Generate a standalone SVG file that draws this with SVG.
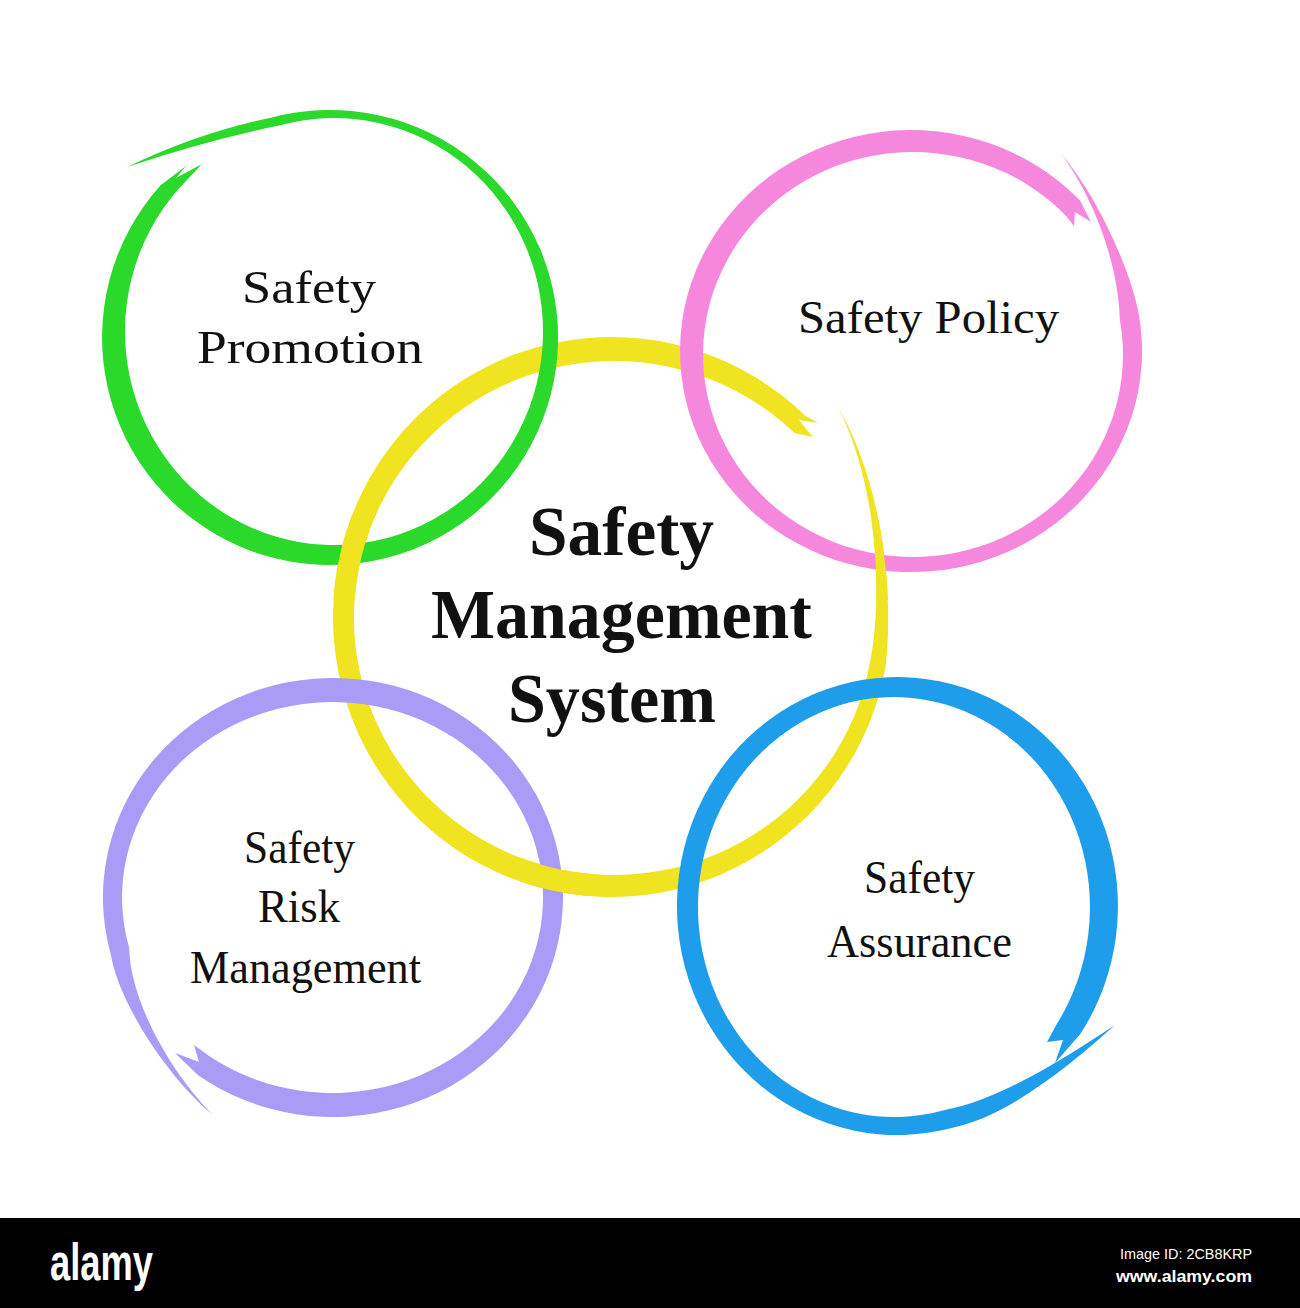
<svg xmlns="http://www.w3.org/2000/svg" xmlns:xlink="http://www.w3.org/1999/xlink" width="1300" height="1308" viewBox="0 0 1300 1308">
<style>
  .lbl { font-family: "Liberation Serif", "Times New Roman", serif; fill: #111; }
  .ctr { font-size: 70px; font-weight: bold; }
  .side { font-size: 46px; }
  .ring-g { fill: #2bd92b; }
  .ring-y { fill: #f0e31f; }
  .ring-p { fill: #f588dc; }
  .ring-l { fill: #a99bf6; }
  .ring-b { fill: #1e9deb; }
  .bar { font-family: "Liberation Sans", Arial, sans-serif; fill: #fff; }
</style>
<defs>
  <clipPath id="cGY"><rect x="318" y="515" width="72" height="85"/></clipPath>
  <clipPath id="cPY"><rect x="850" y="520" width="55" height="80"/></clipPath>
  <clipPath id="cLY"><rect x="520" y="840" width="70" height="65"/></clipPath>
</defs>
<rect x="0" y="0" width="1300" height="1308" fill="#ffffff"/>

<g id="node-sms">
  <path id="ringY" class="ring-y" d="M805,415.6 A278.5,280 0 1 0 885.8,665.6 C893,600 886,490 837,405 C876,480 884,590 870,662.6 A260,257 0 1 1 794.6,433.1 L813,437 L799,420 L818,423 Z"/>
  <text class="lbl ctr" x="529" y="555" textLength="185" lengthAdjust="spacingAndGlyphs">Safety</text>
  <text class="lbl ctr" x="431" y="638" textLength="381" lengthAdjust="spacingAndGlyphs">Management</text>
  <text class="lbl ctr" x="508" y="722" textLength="208" lengthAdjust="spacingAndGlyphs">System</text>
</g>

<g id="node-promotion">
  <path class="ring-g" d="M160.6,185.3 A228,227.5 0 1 0 271,117.75 Q200,132 127,167 Q208,140 279.9,125.3 A209,213.5 0 1 1 178.7,188.65 L202,164 L176,178 L186,166 Z"/>
  <text class="lbl side" x="242" y="303" font-size="44" textLength="134" lengthAdjust="spacingAndGlyphs">Safety</text>
  <text class="lbl side" x="197" y="363" font-size="44" textLength="226" lengthAdjust="spacingAndGlyphs">Promotion</text>
</g>

<g id="node-policy">
  <path class="ring-p" d="M1079.9,200.3 A231,221 0 1 0 1138.5,312.6 C1130,270 1100,200 1060,152 C1092,195 1118,260 1119.8,319.3 A210,202.5 0 1 1 1066.6,216.4 L1074,226 L1075,212 L1091,222 Z"/>
  <text class="lbl side" x="798" y="333" textLength="261" lengthAdjust="spacingAndGlyphs">Safety Policy</text>
</g>

<g id="node-risk">
  <path class="ring-l" d="M197.8,1075.1 A230,219.5 0 1 0 110.8,954.3 C118,1000 165,1075 213,1115 C170,1072 130,1000 129.2,948.1 A210.5,195.5 0 1 1 208.8,1055.7 L194,1045 L199,1062 L175,1053 Z"/>
  <text class="lbl side" x="244" y="863" textLength="111" lengthAdjust="spacingAndGlyphs">Safety</text>
  <text class="lbl side" x="258" y="922" textLength="82" lengthAdjust="spacingAndGlyphs">Risk</text>
  <text class="lbl side" x="190" y="983" textLength="231" lengthAdjust="spacingAndGlyphs">Management</text>
</g>

<g id="node-assurance">
  <path class="ring-b" d="M1080.3,1034 A220.5,229 0 1 0 954.6,1127.2 C1010,1115 1070,1065 1115,1025 C1065,1058 1000,1100 944.7,1109.9 A196,210 0 1 1 1056.5,1024.4 L1047,1042 L1063,1040 L1055,1063 Z"/>
  <text class="lbl side" x="864" y="893" textLength="111" lengthAdjust="spacingAndGlyphs">Safety</text>
  <text class="lbl side" x="827" y="957" textLength="185" lengthAdjust="spacingAndGlyphs">Assurance</text>
</g>

<g id="connectors">
  <use xlink:href="#ringY" href="#ringY" clip-path="url(#cGY)"/>
  <use xlink:href="#ringY" href="#ringY" clip-path="url(#cPY)"/>
  <use xlink:href="#ringY" href="#ringY" clip-path="url(#cLY)"/>
</g>

<g id="footer">
  <rect x="0" y="1218" width="1300" height="90" fill="#000000"/>
  <text class="bar" x="50" y="1280" font-size="52" font-weight="bold" textLength="103" lengthAdjust="spacingAndGlyphs">alamy</text>
  <text class="bar" x="1120" y="1259" font-size="15" fill="#dddddd" textLength="132" lengthAdjust="spacingAndGlyphs">Image ID: 2CB8KRP</text>
  <text class="bar" x="1116" y="1282" font-size="17" font-weight="bold" textLength="136" lengthAdjust="spacingAndGlyphs">www.alamy.com</text>
</g>
</svg>
